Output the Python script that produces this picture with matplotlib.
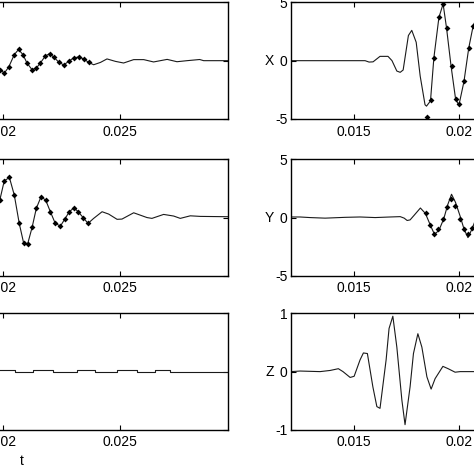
import matplotlib
matplotlib.use('Agg')
from matplotlib import pyplot as plt

plt.rcParams['font.family'] = ['Liberation Sans', 'DejaVu Sans']
plt.rcParams['font.size'] = 10
plt.rcParams['axes.unicode_minus'] = False

# ---- right column (t from 0.012), continuous traces ----
t_xr = [0.0120, 0.01552, 0.01571, 0.01590, 0.01623, 0.01661, 0.01680, 0.01703,
        0.01719, 0.01733, 0.01758, 0.01774, 0.01795, 0.01814, 0.01837, 0.01844,
        0.01863, 0.01879, 0.01903, 0.01923, 0.01939, 0.01961, 0.01982, 0.01998,
        0.02022, 0.02045, 0.02066, 0.0209, 0.0212]
x_r = [0, 0, -0.12, -0.1, 0.37, 0.37, 0.0, -0.89,
       -1.0, -0.8, 2.16, 2.6, 1.58, -1.32, -3.78, -3.9,
       -3.45, 0.23, 3.7, 4.87, 2.84, -0.49, -3.25, -3.83,
       -1.8, 1.1, 3.0, 4.0, 3.0]
tm_xr = [0.01846, 0.01865, 0.01880, 0.01903, 0.01924, 0.01941, 0.01963, 0.01985,
         0.01998, 0.02023, 0.02045, 0.02064]
xm_r = [-4.86, -3.4, 0.27, 3.75, 4.9, 2.8, -0.45, -3.3,
        -3.7, -1.75, 1.06, 2.97]

t_yr = [0.0120, 0.01243, 0.0129, 0.01362, 0.01457, 0.01528, 0.016, 0.01671,
        0.01719, 0.01738, 0.01752, 0.01766, 0.01784, 0.01815, 0.01839, 0.01863,
        0.01882, 0.01903, 0.01926, 0.01945, 0.01963, 0.01982, 0.02003, 0.02022,
        0.02041, 0.02061, 0.02085]
y_r = [0.05, 0.05, 0.0, -0.05, 0.02, 0.05, 0.0, 0.05,
       0.08, -0.05, -0.25, -0.2, 0.17, 0.82, 0.35, -0.68,
       -1.44, -1.1, -0.11, 1.1, 2.0, 1.3, 0.17, -0.96,
       -1.72, -0.96, 0.2]
tm_yr = [0.01842, 0.01861, 0.0188, 0.01901, 0.01922, 0.01941, 0.01961, 0.0198,
         0.02004, 0.02023, 0.02043, 0.0206]
ym_r = [0.36, -0.68, -1.38, -1.0, -0.11, 0.93, 1.58, 1.02,
        -0.11, -0.96, -1.38, -0.87]

t_zr = [0.0120, 0.01243, 0.01338, 0.01386, 0.01425, 0.01447, 0.01481, 0.015,
        0.01528, 0.01544, 0.01563, 0.01589, 0.01608, 0.01623, 0.01652, 0.01666,
        0.01684, 0.01703, 0.01727, 0.01742, 0.01766, 0.01782, 0.01803, 0.01822,
        0.01846, 0.01866, 0.01885, 0.01922, 0.01947, 0.0198, 0.02004, 0.02099]
z_r = [0, 0.01, 0.0, 0.02, 0.05, 0.0, -0.1, -0.08,
       0.2, 0.32, 0.31, -0.26, -0.6, -0.63, 0.2, 0.74,
       0.95, 0.42, -0.49, -0.91, -0.26, 0.31, 0.65, 0.42,
       -0.09, -0.3, -0.12, 0.09, 0.05, -0.01, 0.0, 0.0]

# ---- left column (t from 0.0198) ----
t_xl = [0.0196, 0.01987, 0.02004, 0.02023, 0.02047, 0.02065, 0.02084, 0.02101,
        0.02123, 0.02141, 0.02158, 0.02179, 0.02198, 0.02215, 0.02236, 0.02258,
        0.02279, 0.023, 0.02322, 0.02343, 0.02365, 0.02386, 0.02415, 0.02443,
        0.02479, 0.02514, 0.02557, 0.026, 0.02642, 0.027, 0.02742, 0.02785,
        0.02839, 0.02856, 0.0297]
x_l = [-0.3, -0.78, -1.07, -0.55, 0.52, 0.96, 0.52, -0.2,
       -0.78, -0.64, -0.2, 0.38, 0.61, 0.32, -0.11, -0.37,
       -0.06, 0.23, 0.32, 0.15, -0.15, -0.35, -0.15, 0.15,
       -0.06, -0.2, 0.09, 0.09, -0.11, 0.11, -0.09, 0.0,
       0.1, 0.0, 0.0]
tm_xl = t_xl[1:21]
xm_l = x_l[1:21]

t_yl = [0.0196, 0.01985, 0.02004, 0.02026, 0.02047, 0.02068, 0.02087, 0.02104,
        0.02123, 0.02141, 0.02161, 0.02181, 0.02201, 0.02222, 0.02244, 0.02262,
        0.02282, 0.02302, 0.0232, 0.02341, 0.02362, 0.02386, 0.02422, 0.0245,
        0.02486, 0.02507, 0.02557, 0.02614, 0.02635, 0.02685, 0.02728, 0.02756,
        0.02799, 0.02842, 0.0297]
y_l = [0.2, 1.5, 3.15, 3.44, 1.92, -0.5, -2.2, -2.26,
       -0.84, 0.79, 1.78, 1.5, 0.5, -0.5, -0.73, -0.15,
       0.5, 0.84, 0.5, 0.0, -0.5, -0.07, 0.5, 0.3,
       -0.15, -0.13, 0.41, 0.0, -0.07, 0.27, 0.13, -0.07,
       0.15, 0.1, 0.07]
tm_yl = t_yl[1:21]
ym_l = y_l[1:21]

t_zl = [0.0196, 0.02051, 0.02128, 0.02214, 0.02316, 0.02393, 0.02487, 0.02573,
        0.0265, 0.02714, 0.0297]
z_l = [0.02, 0, 0.02, 0, 0.02, 0, 0.02, 0, 0.02, 0, 0]

names = ['X', 'Y', 'Z']
ylims = [(-5, 5), (-5, 5), (-1, 1)]
yticks = [[-5, 0, 5], [-5, 0, 5], [-1, 0, 1]]
xticks = [0.015, 0.02, 0.025]
xlabels = ['0.015', '0.02', '0.025']

left_lines = [(t_xl, x_l, tm_xl, xm_l), (t_yl, y_l, tm_yl, ym_l), (t_zl, z_l, None, None)]
right_lines = [(t_xr, x_r, tm_xr, xm_r), (t_yr, y_r, tm_yr, ym_r), (t_zr, z_r, None, None)]

fig = plt.figure(figsize=(4.74, 4.74), dpi=100)
bottoms = [0.749, 0.418, 0.093]
h = 0.246

lc = '#1a1a1a'
for i in range(3):
    axl = fig.add_axes([-0.388, bottoms[i], 0.869, h])
    axr = fig.add_axes([0.614, bottoms[i], 0.781, h])
    for ax, (t, v, tm, vm) in ((axl, left_lines[i]), (axr, right_lines[i])):
        if i == 2 and ax is axl:
            ax.plot(t, v, color=lc, lw=0.8, drawstyle='steps-post')
        else:
            ax.plot(t, v, color=lc, lw=0.8)
        if tm is not None:
            ax.plot(tm, vm, 'D', color='black', ms=3, mew=0)
        ax.set_xlim(0.012, 0.0296)
        ax.set_ylim(*ylims[i])
        ax.set_xticks(xticks)
        ax.set_xticklabels(xlabels)
        ax.set_yticks(yticks[i])
        ax.tick_params(direction='in', top=True, right=True, length=3.5,
                       width=0.8, pad=4, labelsize=10)
        ax.tick_params(axis='y', pad=2.5)
        for s in ax.spines.values():
            s.set_linewidth(1.0)
    axr.set_ylabel(names[i], rotation=0, ha='right', va='center')
    axr.yaxis.set_label_coords(-0.046, 0.5)
    if i == 2:
        axl.set_xlabel('t', labelpad=3)

fig.savefig('out.png', dpi=100)
